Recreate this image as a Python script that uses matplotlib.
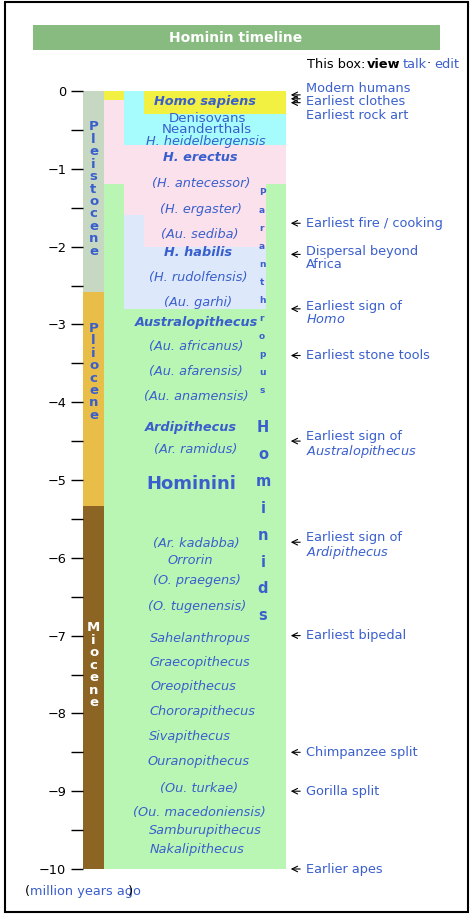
import matplotlib.pyplot as plt
from matplotlib.patches import Rectangle

# epochs (start, end in mya)
epoch_names = ["Pleistocene", "Pliocene", "Miocene"]
epoch_start = [0, -2.58, -5.33]
epoch_end = [-2.58, -5.33, -10]
epoch_colors = ["#c6d8c2", "#e8bd48", "#8c6424"]
epoch_text_colors = ["#3a5fcd", "#3a5fcd", "#ffffff"]

# coloured blocks: (colour, x0, x1, top, bottom) with x in column units of the box
block_colors = ["#b9f6b4", "#fbe1ec", "#fbe1ec", "#fbe1ec", "#fbe1ec", "#f2f040", "#a6fcfc",
                "#f2f040", "#dde9fa", "#dde9fa"]
block_x0 = [104, 104, 124, 124, 144, 104, 124, 144, 124, 144]
block_x1 = [286, 124, 286, 144, 266, 124, 286, 286, 144, 266]
block_top = [0, -0.12, -0.7, -0.7, -1.2, 0, 0, 0, -1.6, -2.0]
block_bot = [-10, -1.2, -1.2, -1.6, -2.0, -0.12, -0.7, -0.3, -2.8, -2.8]

# species labels: name, mya, style
species = ["Homo sapiens", "Denisovans", "Neanderthals", "H. heidelbergensis", "H. erectus",
           "(H. antecessor)", "(H. ergaster)", "(Au. sediba)", "H. habilis", "(H. rudolfensis)",
           "(Au. garhi)", "Australopithecus", "(Au. africanus)", "(Au. afarensis)", "(Au. anamensis)",
           "Ardipithecus", "(Ar. ramidus)", "Hominini", "(Ar. kadabba)", "Orrorin", "(O. praegens)",
           "(O. tugenensis)", "Sahelanthropus", "Graecopithecus", "Oreopithecus", "Chororapithecus",
           "Sivapithecus", "Ouranopithecus", "(Ou. turkae)", "(Ou. macedoniensis)",
           "Samburupithecus", "Nakalipithecus"]
species_mya = [-0.14, -0.35, -0.5, -0.65, -0.86, -1.19, -1.52, -1.84, -2.07, -2.4, -2.72, -2.97,
               -3.29, -3.61, -3.93, -4.33, -4.61, -5.05, -5.81, -6.04, -6.29, -6.62, -7.04, -7.34,
               -7.65, -7.97, -8.3, -8.62, -8.96, -9.28, -9.5, -9.75]
species_x = [205, 207, 207, 206, 200, 201, 201, 200, 198, 198, 198, 196, 196, 196, 196, 191, 196,
             191, 196, 190, 197, 197, 200, 200, 193, 202, 190, 199, 199, 199, 205, 197]
species_style = ["bi", "n", "n", "i", "bi", "i", "i", "i", "bi", "i", "i", "bi", "i", "i", "i",
                 "bi", "i", "big", "i", "i", "i", "i", "i", "i", "i", "i", "i", "i", "i", "i", "i", "i"]

# events on the right
events = ["Modern humans", "Earliest clothes", "Earliest rock art", "Earliest fire / cooking",
          "Dispersal beyond\nAfrica", "Earliest sign of\n$\\it{Homo}$", "Earliest stone tools",
          "Earliest sign of\n$\\it{Australopithecus}$", "Earliest sign of\n$\\it{Ardipithecus}$",
          "Earliest bipedal", "Chimpanzee split", "Gorilla split", "Earlier apes"]
event_mya = [-0.05, -0.1, -0.15, -1.7, -2.1, -2.8, -3.4, -4.5, -5.8, -7.0, -8.5, -9.0, -10.0]
event_text_mya = [0.03, -0.14, -0.31, -1.7, -2.15, -2.85, -3.4, -4.55, -5.85, -7.0, -8.5, -9.0, -10.0]

W, H = 474, 915
fig = plt.figure(figsize=(W / 100, H / 100), dpi=100)
blue = "#3a5fcd"
fs = 9.3

# frame and header
fig.patches.append(Rectangle((5 / W, 3 / H), 463 / W, 910 / H, transform=fig.transFigure,
                             fill=False, ec="black", lw=1.5))
fig.patches.append(Rectangle((33 / W, 1 - 50 / H), 407 / W, 25 / H, transform=fig.transFigure,
                             fc="#88bb80", ec="none"))
fig.text(236 / W, 1 - 37.5 / H, "Hominin timeline", color="white", fontsize=10,
         fontweight="bold", ha="center", va="center")
fig.text(307 / W, 1 - 64 / H, "This box:", fontsize=fs, va="center")
fig.text(367 / W, 1 - 64 / H, "view", fontsize=fs, va="center", fontweight="bold")
fig.text(396 / W, 1 - 64 / H, "·", fontsize=fs, va="center", ha="center")
fig.text(403 / W, 1 - 64 / H, "talk", fontsize=fs, va="center", color=blue)
fig.text(429 / W, 1 - 64 / H, "·", fontsize=fs, va="center", ha="center")
fig.text(434 / W, 1 - 64 / H, "edit", fontsize=fs, va="center", color=blue)
fig.text(25 / W, 1 - 892 / H, "(", fontsize=fs, va="center")
fig.text(30 / W, 1 - 892 / H, "million years ago", fontsize=fs, va="center", color=blue)
fig.text(128 / W, 1 - 892 / H, ")", fontsize=fs, va="center")

ax = fig.add_axes([83 / W, 1 - 869 / H, 203 / W, 778 / H])
ax.set_xlim(83, 286)
ax.set_ylim(-10, 0)
for s in ["top", "right", "bottom", "left"]:
    ax.spines[s].set_visible(False)
ax.set_xticks([])
ax.set_yticks(range(-10, 1))
ax.set_yticklabels(["−%d" % -v if v else "0" for v in range(-10, 1)], fontsize=fs)
ax.set_yticks([v + 0.5 for v in range(-10, 0)], minor=True)
ax.tick_params(axis="y", which="both", length=9, width=1, pad=3)

for name, a, b, c, tc in zip(epoch_names, epoch_start, epoch_end, epoch_colors, epoch_text_colors):
    ax.add_patch(Rectangle((83, b), 21, a - b, fc=c, ec="none"))
    y0 = a - 0.46 if name == "Pleistocene" else (-3.05 if name == "Pliocene" else -6.9)
    for k, ch in enumerate(name):
        ax.text(93.5, y0 - k * 0.16, ch.upper() if k == 0 else ch, color=tc, fontsize=9.5,
                fontweight="bold", ha="center", va="center")

for c, x0, x1, t, b in zip(block_colors, block_x0, block_x1, block_top, block_bot):
    ax.add_patch(Rectangle((x0, b), x1 - x0, t - b, fc=c, ec="none"))

for name, y, x, st in zip(species, species_mya, species_x, species_style):
    kw = dict(color=blue, ha="center", va="center", fontsize=fs)
    if st == "bi":
        kw.update(fontweight="bold", style="italic")
    elif st == "i":
        kw.update(style="italic")
    elif st == "big":
        kw.update(fontweight="bold", fontsize=13)
    if name in ("Denisovans", "Neanderthals"):
        kw["fontsize"] = 9.6
    ax.text(x, y, name, **kw)

for k, ch in enumerate("Paranthropus"):
    ax.text(262, -1.3 - k * 0.232, ch, color=blue, fontsize=6.5, fontweight="bold",
            ha="center", va="center")
for k, ch in enumerate("Hominids"):
    ax.text(263, -4.33 - k * 0.345, ch, color=blue, fontsize=10.5, fontweight="bold",
            ha="center", va="center")

for name, y, ty in zip(events, event_mya, event_text_mya):
    ax.annotate("", xy=(288, y), xytext=(303, y), annotation_clip=False,
                arrowprops=dict(arrowstyle="->", lw=0.8, color="black"))
    ax.text(306, ty, name, color=blue, fontsize=fs, va="center", ha="left",
            linespacing=1.0, clip_on=False)

fig.savefig("out.png", dpi=100)
